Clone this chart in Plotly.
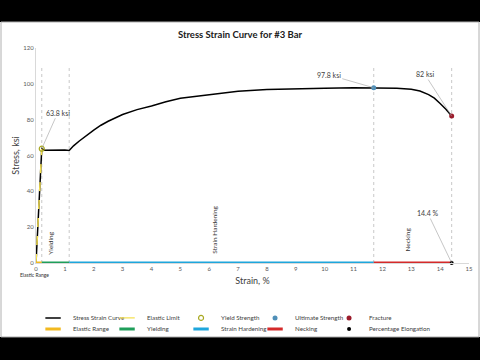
import plotly.graph_objects as go

# ---------------- data ----------------
strain = [0, 0.2, 0.3, 0.45, 0.6, 0.8, 1.0, 1.15, 1.3, 1.5, 1.75, 2.0, 2.25, 2.5, 3.0, 3.5,
          4.0, 4.5, 5.0, 6.0, 7.0, 8.0, 9.0, 10.0, 11.0, 11.7, 12.5, 13.0, 13.3, 13.6,
          13.8, 14.0, 14.2, 14.4]
stress = [0, 63.8, 63.0, 63.1, 63.2, 63.3, 63.1, 62.8, 65.4, 68.1, 71.3, 74.2, 76.9, 79.1,
          82.9, 85.6, 87.6, 90.0, 91.9, 94.1, 95.9, 96.8, 97.3, 97.6, 97.8, 97.8, 97.5,
          97.0, 96.0, 94.0, 92.0, 89.0, 85.8, 82.0]

elastic_limit_x = [0, 0.2]
elastic_limit_y = [0, 63.8]

yield_pt = (0.2, 63.8)
ultimate_pt = (11.7, 97.8)
fracture_pt = (14.4, 82.0)
elongation_pt = (14.4, 0.0)

# region boundaries along the strain axis
region_names = ["Elastic Range", "Yielding", "Strain Hardening", "Necking"]
region_start = [0, 0.2, 1.15, 11.7]
region_end = [0.2, 1.15, 11.7, 14.4]
region_colors = ["#F2B920", "#1F9E5A", "#1EA6DC", "#D42A2A"]

boundary_x = [0.2, 1.15, 11.7, 14.4]
boundary_top = 110

x_ticks = list(range(0, 16))
y_ticks = list(range(0, 121, 20))

FONT = "Lato, 'Open Sans', sans-serif"
GRAY = "#595959"
CURVE_COLOR = "black"
ELASTIC_COLOR = "#F5E050"

fig = go.Figure()

# vertical dotted boundary lines
for bx in boundary_x:
    fig.add_trace(go.Scatter(x=[bx, bx], y=[0, boundary_top], mode="lines",
                             line=dict(color="#C8C8C8", width=1, dash="dot"),
                             showlegend=False, hoverinfo="skip"))

# data marks (legend keys are drawn by short-line legend entries below)
fig.add_trace(go.Scatter(x=strain, y=stress, mode="lines", name="Stress Strain Curve",
                         line=dict(color=CURVE_COLOR, width=1.5), showlegend=False))
fig.add_trace(go.Scatter(x=elastic_limit_x, y=elastic_limit_y, mode="lines", name="Elastic Limit",
                         line=dict(color=ELASTIC_COLOR, width=1.5, dash="dash"), showlegend=False))
for name, s, e, c in zip(region_names, region_start, region_end, region_colors):
    fig.add_trace(go.Scatter(x=[s, e], y=[0, 0], mode="lines", name=name,
                             line=dict(color=c, width=3), showlegend=False, cliponaxis=False))


def key_line(name, color, width, legend):
    # legend-only entry with a short horizontal line key
    return go.Scatter(x=[None], y=[None], mode="markers", name=name, legend=legend,
                      marker=dict(symbol="line-ew-open", size=11, color=color,
                                  line=dict(color=color, width=width)))


# legend row 1
fig.add_trace(key_line("Stress Strain Curve", CURVE_COLOR, 1.5, "legend"))
fig.add_trace(key_line("Elastic Limit", ELASTIC_COLOR, 1.2, "legend"))
fig.add_trace(go.Scatter(x=[yield_pt[0]], y=[yield_pt[1]], mode="markers", name="Yield Strength",
                         marker=dict(symbol="circle-open", size=5, color="#A8A820",
                                     line=dict(width=1.2)), legend="legend"))
fig.add_trace(go.Scatter(x=[ultimate_pt[0]], y=[ultimate_pt[1]], mode="markers", name="Ultimate Strength",
                         marker=dict(size=5, color="#4F8FB8"), legend="legend"))
fig.add_trace(go.Scatter(x=[fracture_pt[0]], y=[fracture_pt[1]], mode="markers", name="Fracture",
                         marker=dict(size=5, color="#9B1B2B"), legend="legend"))

# legend row 2
for name, c in zip(region_names, region_colors):
    fig.add_trace(key_line(name, c, 3, "legend2"))
fig.add_trace(go.Scatter(x=[elongation_pt[0]], y=[elongation_pt[1]], mode="markers",
                         name="Percentage Elongation", marker=dict(size=4, color="black"),
                         legend="legend3", cliponaxis=False))

# value annotations
ann_font = dict(family=FONT, size=7, color="#404040")
fig.add_annotation(x=yield_pt[0], y=yield_pt[1], text="63.8 ksi", showarrow=True, arrowhead=0,
                   arrowwidth=0.6, arrowcolor="#A0A0A0", ax=16, ay=-36, font=ann_font)
fig.add_annotation(x=ultimate_pt[0], y=ultimate_pt[1], text="97.8 ksi", showarrow=True, arrowhead=0,
                   arrowwidth=0.6, arrowcolor="#A0A0A0", ax=-45, ay=-13, font=ann_font)
fig.add_annotation(x=fracture_pt[0], y=fracture_pt[1], text="82 ksi", showarrow=True, arrowhead=0,
                   arrowwidth=0.6, arrowcolor="#A0A0A0", ax=-27, ay=-42, font=ann_font)
fig.add_annotation(x=elongation_pt[0], y=elongation_pt[1], text="14.4 %", showarrow=True, arrowhead=0,
                   arrowwidth=0.6, arrowcolor="#A0A0A0", ax=-24, ay=-50, font=ann_font)

# region labels
lab_font = dict(family=FONT, size=6.5, color="#303030")
fig.add_annotation(x=0.5, y=11, text="Yielding", textangle=-90, showarrow=False, font=lab_font)
fig.add_annotation(x=6.2, y=18.5, text="Strain Hardening", textangle=-90, showarrow=False, font=lab_font)
fig.add_annotation(x=12.88, y=13, text="Necking", textangle=-90, showarrow=False, font=lab_font)
fig.add_annotation(x=-0.0416, y=-0.079, xref="paper", yref="paper", text="Elastic Range",
                   showarrow=False, font=dict(family=FONT, size=5, color="#303030"))

# black video bars and frame
fig.add_shape(type="rect", xref="paper", yref="paper", x0=-0.0832, x1=1.0255, y0=1.1209, y1=1.2233,
              fillcolor="black", line=dict(width=0), layer="above")
fig.add_shape(type="rect", xref="paper", yref="paper", x0=-0.0832, x1=1.0255, y0=-0.4512, y1=-0.344,
              fillcolor="black", line=dict(width=0), layer="above")
fig.add_shape(type="rect", xref="paper", yref="paper", x0=-0.0808, x1=1.0231, y0=-0.344, y1=1.1209,
              fillcolor="rgba(0,0,0,0)", line=dict(color="#B0B0B0", width=1))

legend_common = dict(orientation="h", xanchor="left", yanchor="top",
                     font=dict(family=FONT, size=6.2, color="#404040"),
                     bgcolor="rgba(0,0,0,0)", tracegroupgap=0, itemwidth=30)
LEG_X = -0.0068
COL_STEP = 74 / 433

fig.update_layout(
    width=480, height=360,
    margin=dict(l=36, r=11, t=48, b=97, autoexpand=False),
    paper_bgcolor="white", plot_bgcolor="white",
    font=dict(family=FONT, color=GRAY),
    title=dict(text="<b>Stress Strain Curve for #3 Bar</b>", x=0.5, xref="container", xanchor="center",
               y=0.905, yref="container", yanchor="middle",
               font=dict(family=FONT, size=9.5, color="#202020")),
    xaxis=dict(range=[0, 15], tickvals=x_ticks, showgrid=False, zeroline=False, automargin=False,
               showline=True, linecolor="#D9D9D9", linewidth=1, ticks="",
               tickfont=dict(size=6, color=GRAY),
               title=dict(text="Strain, %", font=dict(size=9, color="#404040"), standoff=6)),
    yaxis=dict(range=[0, 120], tickvals=y_ticks, showgrid=False, zeroline=False, automargin=False,
               showline=True, linecolor="#D9D9D9", linewidth=1, ticks="",
               tickfont=dict(size=6, color=GRAY),
               title=dict(text="Stress, ksi", font=dict(size=9, color="#404040"), standoff=2)),
    legend=dict(x=LEG_X, y=-0.188, entrywidth=29, entrywidthmode="pixels", **legend_common),
    legend2=dict(x=LEG_X, y=-0.239, entrywidth=29, entrywidthmode="pixels", **legend_common),
    legend3=dict(x=LEG_X + 4 * COL_STEP, y=-0.239, **legend_common),
    showlegend=True,
)

fig.write_html("out.html", config={"displayModeBar": False},
               post_script="document.body.style.margin='0';")
